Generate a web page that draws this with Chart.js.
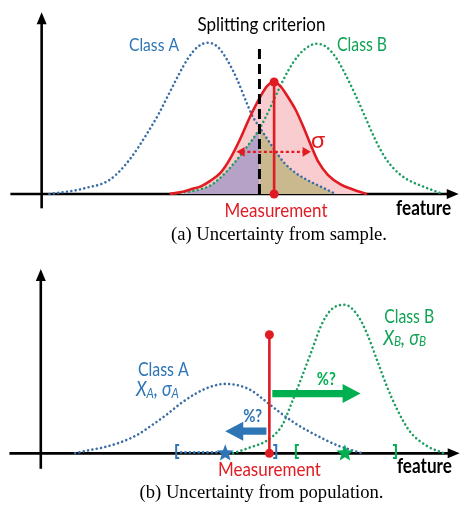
<!DOCTYPE html>
<html><head><meta charset="utf-8">
<script src="https://cdn.jsdelivr.net/npm/chart.js@4.4.1/dist/chart.umd.min.js"></script>
<style>
html,body{margin:0;padding:0;background:#fff;width:474px;height:508px;overflow:hidden}
canvas{display:block;position:absolute;left:0}
</style></head>
<body>
<canvas id="cTop" width="474" height="254" style="top:0"></canvas>
<canvas id="cBot" width="474" height="254" style="top:254px"></canvas>
<script>
// ---------- data (x = feature position, y = density height) ----------
// (a) Uncertainty from sample
const blueTopX  = [45,60,73,85,97,107,117,130,143,157,167,177,187,197,207,217,227,237,247,253,260,267,275,285,297,310,322,336];
const blueTopY  = [0,2,4,7,10,15,24,40,60,84,104,124,142,154,158,154,140,120,95,81,70,59,47,33,22,14,8,1];
const greenTopX = [170,185,200,210,220,233,247,260,270,280,290,300,310,318,328,338,348,358,368,378,388,398,410,427,445];
const greenTopY = [0,2,5,9,17,31,49,68,88,110,130,145,154,157,154,143,125,104,81,58,39,26,16,8,1];
const redTopX   = [168,180,190,200,210,220,230,240,250,260,268,275,282,290,297,305,313,320,330,343,355,370];
const redTopY   = [0,2,5,8,14,22,37,57,80,100,113,117,112,100,88,70,50,34,20,10,5,0];
const splitCriterion = 260;
const splitHeight = 155;
const measurementTop = 275;
const measurementTopHeight = 117;
const sigmaArrowX = [242,307];
const sigmaArrowHeight = 44;

// (b) Uncertainty from population
const blueBotX  = [72,85,100,117,135,150,165,180,195,210,225,240,252,265,280,295,310,325,340,355,365];
const blueBotY  = [0,3,6,11,19,29,40,52,62,69,72,70,65,55,43,32,23,15,8,3,0];
const greenBotX = [233,250,267,283,293,303,313,323,333,347,360,370,380,390,400,413,430,448];
const greenBotY = [0,6,13,29,53,79,106,133,149,154,143,123,96,69,46,23,8,0];
const measurementBot = 270;
const measurementBotHeight = 123;
const starA = 225, starB = 347;
const intervalA = [175,277], intervalB = [297,399];
const arrowToB = [273,363], arrowToBHeight = 62;
const arrowToA = [267,225], arrowToAHeight = 23;
const tailA = [180,216];

// ---------- helpers ----------
const RED='#e11b22', BLUE_T='#2e75b6', GREEN_T='#12a356', GREEN_A='#00b050', BLUE_C='#3b6ea6', GREEN_C='#1f9e62';
const SANS='Lato, "Open Sans", sans-serif', SERIF='"Liberation Serif", "DejaVu Serif", serif';
const pts=(xs,ys)=>xs.map((x,i)=>({x:x,y:ys[i]}));
const dotted=(c)=>({borderColor:c,borderWidth:2.6,borderDash:[0.01,4.4],borderCapStyle:'round',pointRadius:0,fill:false,cubicInterpolationMode:'monotone'});

function fitText(ctx,s,x,y,o){
  ctx.save();
  const st=o.style||'normal', wt=o.weight||'normal', fam=o.family||SANS;
  const sx=o.sx||(fam===SANS?0.86:1);
  let size=o.size||20;
  ctx.font=`${st} ${wt} ${size}px ${fam}`;
  if(o.width){ size=size*o.width/(ctx.measureText(s).width*sx); ctx.font=`${st} ${wt} ${size}px ${fam}`; }
  ctx.fillStyle=o.color||'#000'; ctx.textAlign=o.align||'center'; ctx.textBaseline='middle';
  ctx.translate(x,y); ctx.scale(sx,1);
  ctx.fillText(s,0,0); ctx.restore(); return size;
}
function subLabel(ctx,parts,x,y,width,color){
  const sx=0.86;
  ctx.save(); ctx.textBaseline='middle'; ctx.textAlign='left'; ctx.fillStyle=color;
  const f=(s)=>`italic normal ${s}px ${SANS}`;
  let w=0; parts.forEach(p=>{ctx.font=f(p[1]?10:15); w+=ctx.measureText(p[0]).width;});
  const k=width/(w*sx); let cx=0;
  ctx.translate(x,y); ctx.scale(sx,1);
  parts.forEach(p=>{const s=(p[1]?10:15)*k; ctx.font=f(s); ctx.fillText(p[0],cx,(p[1]?3.5:0)); cx+=ctx.measureText(p[0]).width;});
  ctx.restore();
}
function drawAxes(chart,yBot,yTip){
  const {ctx,scales:{x,y}}=chart; const X=v=>x.getPixelForValue(v), Y=v=>y.getPixelForValue(v);
  ctx.save(); ctx.strokeStyle='#000'; ctx.fillStyle='#000'; ctx.lineWidth=2.6;
  const ax=X(37), tipY=Y(yTip);
  ctx.beginPath(); ctx.moveTo(ax,Y(yBot)); ctx.lineTo(ax,tipY+8); ctx.stroke();
  ctx.beginPath(); ctx.moveTo(ax,tipY); ctx.lineTo(ax-5,tipY+12); ctx.lineTo(ax+5,tipY+12); ctx.closePath(); ctx.fill();
  const by=Y(0), tipX=X(464);
  ctx.beginPath(); ctx.moveTo(X(5),by); ctx.lineTo(tipX-8,by); ctx.stroke();
  ctx.beginPath(); ctx.moveTo(tipX,by); ctx.lineTo(tipX-12,by-5); ctx.lineTo(tipX-12,by+5); ctx.closePath(); ctx.fill();
  ctx.restore();
}
function blockArrow(ctx,x0,x1,yc,color){
  const dir=Math.sign(x1-x0), head=18, sh=3.6, hh=9.5, xb=x1-dir*head;
  ctx.save(); ctx.fillStyle=color; ctx.beginPath();
  ctx.moveTo(x0,yc-sh); ctx.lineTo(xb,yc-sh); ctx.lineTo(xb,yc-hh); ctx.lineTo(x1,yc);
  ctx.lineTo(xb,yc+hh); ctx.lineTo(xb,yc+sh); ctx.lineTo(x0,yc+sh); ctx.closePath(); ctx.fill(); ctx.restore();
}
function star(ctx,cx,cy,R,r,color){
  ctx.save(); ctx.fillStyle=color; ctx.beginPath();
  for(let i=0;i<10;i++){const a=-Math.PI/2+i*Math.PI/5, rr=i%2?r:R; const px=cx+rr*Math.cos(a), py=cy+rr*Math.sin(a); i?ctx.lineTo(px,py):ctx.moveTo(px,py);}
  ctx.closePath(); ctx.fill(); ctx.restore();
}
function bracket(ctx,x,yc,open,color){
  const d=open?1:-1, h=6.5, s=3;
  ctx.save(); ctx.strokeStyle=color; ctx.lineWidth=2; ctx.lineCap='butt';
  ctx.beginPath(); ctx.moveTo(x+d*s,yc-h); ctx.lineTo(x,yc-h); ctx.lineTo(x,yc+h); ctx.lineTo(x+d*s,yc+h); ctx.stroke();
  ctx.restore();
}
// caption size shared by both panels
const mc=document.createElement('canvas').getContext('2d');
mc.font=`20px ${SERIF}`;
const capSize=20*216/mc.measureText('(a) Uncertainty from sample.').width;

const baseOpts=(ymin,ymax)=>({
  responsive:false, animation:false, devicePixelRatio:1, layout:{padding:0},
  plugins:{legend:{display:false},tooltip:{enabled:false},title:{display:false}},
  elements:{point:{radius:0},line:{tension:0}},
  scales:{x:{type:'linear',min:0,max:474,display:false},y:{type:'linear',min:ymin,max:ymax,display:false}}
});

// ---------- top chart ----------
const purpleX=greenTopX.filter(v=>v>=185&&v<=splitCriterion), purpleY=purpleX.map(v=>greenTopY[greenTopX.indexOf(v)]);
const oliveX=blueTopX.filter(v=>v>=splitCriterion), oliveY=oliveX.map(v=>blueTopY[blueTopX.indexOf(v)]);
const fillDs=(xs,ys,c,o)=>({data:pts(xs,ys),borderColor:'rgba(0,0,0,0)',borderWidth:1,backgroundColor:c,fill:'origin',pointRadius:0,cubicInterpolationMode:'monotone',order:o});

const topPlugin={id:'topDeco',
  beforeDatasetsDraw(chart){drawAxes(chart,-15,190);},
  afterDatasetsDraw(chart){
    const {ctx,scales:{x,y}}=chart; const X=v=>x.getPixelForValue(v), Y=v=>y.getPixelForValue(v);
    fitText(ctx,'Splitting criterion',X(262),Y(177),{width:128,color:'#000'});
    fitText(ctx,'Class A',X(152),Y(156),{width:50,color:BLUE_T});
    fitText(ctx,'Class B',X(365),Y(156),{width:50,color:GREEN_T});
    fitText(ctx,'σ',X(320),Y(56),{width:14,color:RED,sx:1});
    fitText(ctx,'Measurement',X(277),Y(-17),{width:103,color:RED});
    fitText(ctx,'feature',X(428),Y(-15),{width:55,weight:'bold',color:'#000'});
    fitText(ctx,'(a) Uncertainty from sample.',X(280),Y(-43),{size:capSize,family:SERIF,color:'#000'});
  }};
new Chart(document.getElementById('cTop'),{
  type:'line',
  data:{datasets:[
    fillDs(redTopX,redTopY,'#f9cdd0',10),
    fillDs(purpleX,purpleY,'#b6a2c6',9),
    fillDs(oliveX,oliveY,'#cab98f',9),
    Object.assign(dotted(BLUE_C),{data:pts(blueTopX,blueTopY),order:7}),
    Object.assign(dotted(GREEN_C),{data:pts(greenTopX,greenTopY),order:7}),
    {data:pts(redTopX,redTopY),borderColor:RED,borderWidth:2.6,fill:false,pointRadius:0,cubicInterpolationMode:'monotone',order:5},
    {data:[{x:splitCriterion,y:0},{x:splitCriterion,y:splitHeight}],borderColor:'#000',borderWidth:3,borderDash:[10,5],pointRadius:0,fill:false,order:4},
    {data:[{x:sigmaArrowX[0],y:sigmaArrowHeight},{x:sigmaArrowX[1],y:sigmaArrowHeight}],borderColor:RED,borderWidth:2.4,borderDash:[3,2.5],fill:false,
      pointStyle:'triangle',pointRadius:5.5,pointRotation:[-90,90],pointBackgroundColor:RED,pointBorderColor:RED,pointBorderWidth:0,order:3},
    {data:[{x:measurementTop,y:0},{x:measurementTop,y:measurementTopHeight}],borderColor:RED,borderWidth:2.6,fill:false,
      pointRadius:4.5,pointBackgroundColor:RED,pointBorderColor:RED,pointBorderWidth:0,order:2}
  ]},
  options:baseOpts(-57,197),
  plugins:[topPlugin]
});

// ---------- bottom chart ----------
const botPlugin={id:'botDeco',
  beforeDatasetsDraw(chart){drawAxes(chart,-16,191);},
  afterDatasetsDraw(chart){
    const {ctx,scales:{x,y}}=chart; const X=v=>x.getPixelForValue(v), Y=v=>y.getPixelForValue(v);
    blockArrow(ctx,X(arrowToB[0]),X(arrowToB[1]),Y(arrowToBHeight),GREEN_A);
    blockArrow(ctx,X(arrowToA[0]),X(arrowToA[1]),Y(arrowToAHeight),BLUE_T);
    fitText(ctx,'%?',X(328),Y(77),{width:19,weight:'bold',color:GREEN_A});
    fitText(ctx,'%?',X(253),Y(38),{width:19,weight:'bold',color:BLUE_T});
    star(ctx,X(starA),Y(0),9,3.8,BLUE_T);
    star(ctx,X(starB),Y(0),9,3.8,GREEN_A);
    bracket(ctx,X(intervalA[0]),Y(2),true,BLUE_T); bracket(ctx,X(intervalA[1]),Y(2),false,BLUE_T);
    bracket(ctx,X(intervalB[0]),Y(2),true,GREEN_A); bracket(ctx,X(intervalB[1]),Y(2),false,GREEN_A);
    fitText(ctx,'Class A',X(136),Y(86),{width:51,color:BLUE_T,align:'left'});
    subLabel(ctx,[['X',0],['A',1],[', σ',0],['A',1]],X(134),Y(66),43,BLUE_T);
    fitText(ctx,'Class B',X(387),Y(141),{width:50,color:GREEN_T,align:'left'});
    subLabel(ctx,[['X',0],['B',1],[', σ',0],['B',1]],X(386),Y(119),43,GREEN_T);
    fitText(ctx,'Measurement',X(270),Y(-17),{width:103,color:RED});
    fitText(ctx,'feature',X(428),Y(-14),{width:55,weight:'bold',color:'#000'});
    fitText(ctx,'(b) Uncertainty from population.',X(262),Y(-41),{size:capSize,family:SERIF,color:'#000'});
  }};
new Chart(document.getElementById('cBot'),{
  type:'line',
  data:{datasets:[
    Object.assign(dotted(BLUE_C),{data:pts(blueBotX,blueBotY),order:7}),
    Object.assign(dotted(GREEN_C),{data:pts(greenBotX,greenBotY),order:7}),
    Object.assign(dotted(BLUE_T),{data:[{x:tailA[0],y:1},{x:tailA[1],y:1}],order:6}),
    {data:[{x:measurementBot,y:0},{x:measurementBot,y:measurementBotHeight}],borderColor:RED,borderWidth:2.6,fill:false,
      pointRadius:4.5,pointBackgroundColor:RED,pointBorderColor:RED,pointBorderWidth:0,order:2}
  ]},
  options:baseOpts(-52,202),
  plugins:[botPlugin]
});
</script>
</body></html>
